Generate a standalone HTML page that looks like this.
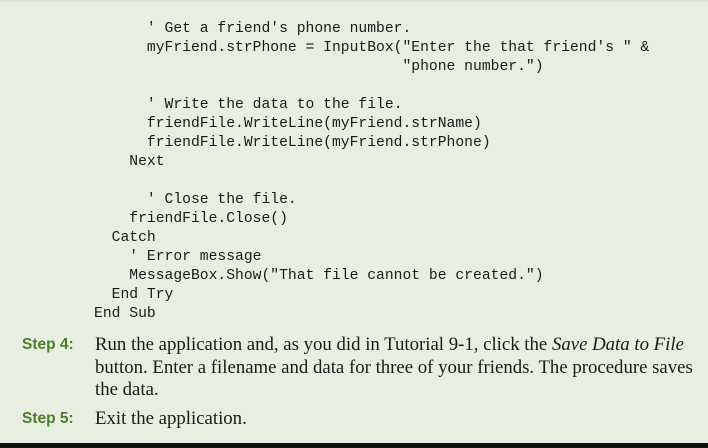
<!DOCTYPE html>
<html><head><meta charset="utf-8"><style>
html,body{margin:0;padding:0}
body{width:708px;height:448px;background:#e9efe0;position:relative;overflow:hidden}
.c{position:absolute;left:0;font-family:"Liberation Mono",monospace;font-size:14.7px;color:#1a1a1a;white-space:pre;line-height:19px}
.s{position:absolute;font-family:"Liberation Serif",serif;font-size:18.8px;color:#1a1a1a;white-space:nowrap;line-height:22px}
.l{position:absolute;left:22px;font-family:"Liberation Sans",sans-serif;font-weight:bold;font-size:15.5px;color:#4b7c2c;line-height:22px}
.bar{position:absolute;left:0;right:0;top:443px;height:5px;background:#111}
.top{position:absolute;left:0;right:0;top:0;height:2px;background:#dfe6d6}
</style></head><body>
<div class="top"></div>
<div class="c" style="top:20px;left:94px">      ' Get a friend's phone number.
      myFriend.strPhone = InputBox("Enter the that friend's " &
                                   "phone number.")

      ' Write the data to the file.
      friendFile.WriteLine(myFriend.strName)
      friendFile.WriteLine(myFriend.strPhone)
    Next

      ' Close the file.
    friendFile.Close()
  Catch
    ' Error message
    MessageBox.Show("That file cannot be created.")
  End Try
End Sub</div>
<div class="l" style="top:334px">Step 4:</div>
<div class="s" style="left:95px;top:334px">Run the application and, as you did in Tutorial 9-1, click the <i>Save Data to File</i></div>
<div class="s" style="left:95px;top:357px">button. Enter a filename and data for three of your friends. The procedure saves</div>
<div class="s" style="left:95px;top:379px">the data.</div>
<div class="l" style="top:408px">Step 5:</div>
<div class="s" style="left:95px;top:408px">Exit the application.</div>
<div class="bar"></div>
</body></html>
